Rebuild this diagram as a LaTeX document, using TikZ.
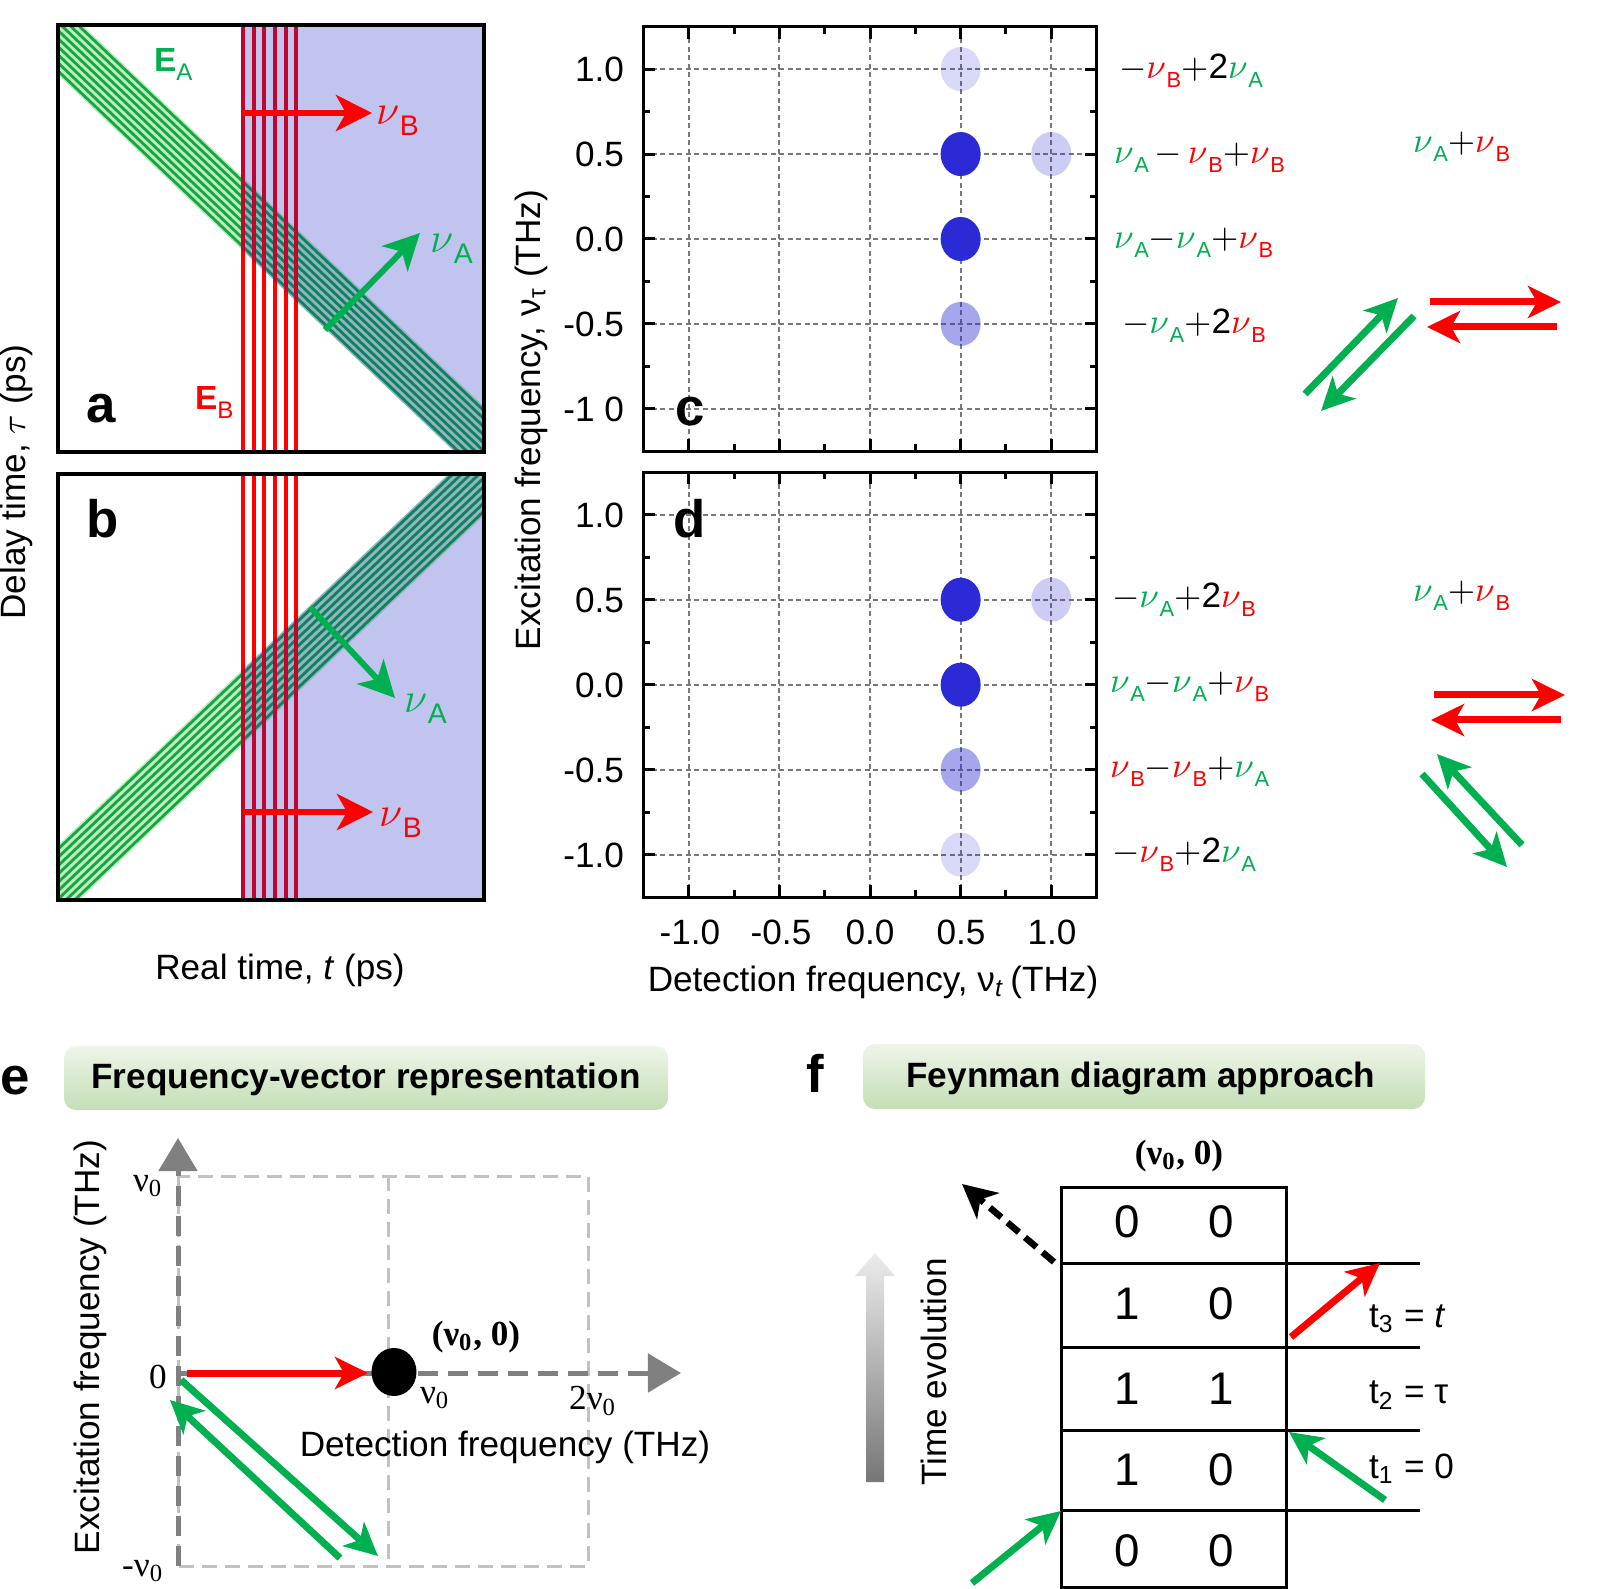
\documentclass[tikz,border=0pt]{standalone}
\usepackage{fontspec}
\setmainfont{Liberation Sans}
\newfontfamily\serifrm{Liberation Serif}
\usepackage{graphicx}
\usetikzlibrary{arrows.meta}
\definecolor{cgreen}{RGB}{0,176,80}
\definecolor{cred}{RGB}{255,0,0}
\definecolor{bandlight}{RGB}{196,234,186}
\definecolor{banddark}{RGB}{14,168,70}
\definecolor{ovl}{RGB}{10,20,190}
\definecolor{dotblue}{RGB}{43,43,214}
\definecolor{gridgray}{RGB}{120,120,120}
\definecolor{axgray}{RGB}{128,128,128}
\definecolor{ltgray}{RGB}{194,194,194}
\definecolor{hdtop}{RGB}{238,245,233}
\definecolor{hdbot}{RGB}{196,222,182}
\definecolor{tedark}{RGB}{118,118,118}
\definecolor{telight}{RGB}{236,236,236}
\newcommand{\nuAg}{{\color{cgreen}$\nu$\kern0.2pt\raisebox{-0.45ex}{\scalebox{0.62}{A}}}}
\newcommand{\nuBr}{{\color{cred}$\nu$\kern0.2pt\raisebox{-0.45ex}{\scalebox{0.62}{B}}}}
\newcommand{\mi}{$-$}
\newcommand{\pl}{$+$}
\tikzset{
  every node/.style={inner sep=0pt, outer sep=0pt},
  fs/.style={font=\fontsize{#1}{#1}\selectfont},
  panel/.style={font=\fontsize{15}{15}\selectfont\bfseries, anchor=base west},
  boxframe/.style={line width=0.04cm},
  bigarrow/.style={line width=0.06cm, -{Stealth[length=0.36cm,width=0.36cm,inset=0.1cm]}},
  smarrow/.style={line width=0.07cm, -{Stealth[length=0.33cm,width=0.32cm,inset=0.09cm]}},
  gridln/.style={gridgray, line width=0.02cm, dash pattern=on 0.05cm off 0.035cm},
  axframe/.style={line width=0.03cm},
  ltdash/.style={ltgray, line width=0.03cm, dash pattern=on 0.15cm off 0.08cm},
  axdash/.style={axgray, line width=0.05cm, dash pattern=on 0.2cm off 0.1cm, -{Triangle[length=0.33cm,width=0.38cm]}},
  rowlbl/.style={fs=10, anchor=base west},
  ticklbl/.style={fs=10},
  axtitle/.style={fs=10},
  header/.style={font=\fontsize{10}{10}\selectfont\bfseries},
  cellnum/.style={fs=13},
}
\begin{document}
\begin{tikzpicture}[x=0.01cm, y=-0.01cm]
\useasboundingbox (0,0) rectangle (1600,1589);
\fill[white] (0,0) rectangle (1600,1589);

% ================= Panel a =================
\begin{scope}
  \clip (58,25) rectangle (484,452);
  \fill[bandlight] (0,-53.1) -- (600,516.9) -- (600,589.9) -- (0,19.9) -- cycle;
  \foreach \i in {0,...,8}{
    \pgfmathsetmacro\k{230+(\i+0.5)*73/9}
    \draw[banddark, line width=0.028cm] (0,\k-283.1) -- (600,\k+286.9);
  }
  \foreach \xx in {243,253.7,264.3,275,285.7,296.3}
    \draw[cred, line width=0.04cm] (\xx,25) -- (\xx,452);
  \fill[ovl, fill opacity=0.25] (241,0) -- (600,0) -- (600,590) -- (241,248.8) -- cycle;
\end{scope}
\draw[boxframe] (58,25) rectangle (484,452);
\coordinate (aRs) at (242,113); \coordinate (aRe) at (372,113);
\draw[cred, bigarrow] (aRs) -- (aRe);
\node[fs=13, anchor=base west] (aRl) at (376,125) {\nuBr};
\coordinate (aGs) at (325,330); \coordinate (aGe) at (420,233);
\draw[cgreen, bigarrow] (aGs) -- (aGe);
\node[fs=13, anchor=base west] (aGl) at (430,253) {\nuAg};
\node[fs=9.5, anchor=base west, text=cgreen] (EA) at (154,72) {\textbf{E}\raisebox{-0.5ex}{\scalebox{0.72}{A}}};
\node[fs=9.5, anchor=base west, text=cred] (EB) at (195,410) {\textbf{E}\raisebox{-0.5ex}{\scalebox{0.72}{B}}};
\node[panel] (la) at (86,423) {a};

% ================= Panel b =================
\begin{scope}
  \clip (58,474) rectangle (484,900);
  \fill[bandlight] (0,900.1) -- (600,330.1) -- (600,405.1) -- (0,975.1) -- cycle;
  \foreach \i in {0,...,8}{
    \pgfmathsetmacro\k{617+(\i+0.5)*75/9}
    \draw[banddark, line width=0.028cm] (0,\k+283.1) -- (600,\k-286.9);
  }
  \foreach \xx in {243,253.7,264.3,275,285.7,296.3}
    \draw[cred, line width=0.04cm] (\xx,474) -- (\xx,900);
  \fill[ovl, fill opacity=0.25] (241,671.1) -- (600,330.1) -- (600,1000) -- (241,1000) -- cycle;
\end{scope}
\draw[boxframe] (58,474) rectangle (484,900);
\coordinate (bGs) at (310,607); \coordinate (bGe) at (395,698);
\draw[cgreen, bigarrow] (bGs) -- (bGe);
\node[fs=13, anchor=base west] (bGl) at (404,713) {\nuAg};
\coordinate (bRs) at (243,812); \coordinate (bRe) at (373,812);
\draw[cred, bigarrow] (bRs) -- (bRe);
\node[fs=13, anchor=base west] (bRl) at (379,827) {\nuBr};
\node[panel] (lb) at (86,538) {b};

\node[axtitle, rotate=90] (ylab) at (16,482) {Delay time, $\tau$ (ps)};
\node[axtitle] (xlab) at (280,970) {Real time, \textit{t} (ps)};

% ================= Panel c =================
\begin{scope}[shift={(870,239)}, x=1.812cm, y=1.698cm]
  \foreach \v in {-1,-0.5,0,0.5,1}{
    \draw[gridln] (\v,-1.25) -- (\v,1.25);
    \draw[gridln] (-1.25,\v) -- (1.25,\v);
  }
  \fill[dotblue, fill opacity=0.18] (0.5,1) ellipse [x radius=0.2cm, y radius=0.22cm];
  \fill[dotblue] (0.5,0.5) ellipse [x radius=0.2cm, y radius=0.22cm];
  \fill[dotblue, fill opacity=0.24] (1,0.5) ellipse [x radius=0.2cm, y radius=0.22cm];
  \fill[dotblue] (0.5,0) ellipse [x radius=0.2cm, y radius=0.22cm];
  \fill[dotblue, fill opacity=0.42] (0.5,-0.5) ellipse [x radius=0.2cm, y radius=0.22cm];
  \foreach \v in {-1,-0.5,0,0.5,1}{
    \draw[axframe] (\v,-1.25) -- ++(0,0.12cm);
    \draw[axframe] (\v,1.25) -- ++(0,-0.12cm);
    \draw[axframe] (-1.25,\v) -- ++(0.12cm,0);
    \draw[axframe] (1.25,\v) -- ++(-0.12cm,0);
  }
  \foreach \v in {-0.75,-0.25,0.25,0.75}{
    \draw[axframe] (\v,-1.25) -- ++(0,0.07cm);
    \draw[axframe] (\v,1.25) -- ++(0,-0.07cm);
    \draw[axframe] (-1.25,\v) -- ++(0.07cm,0);
    \draw[axframe] (1.25,\v) -- ++(-0.07cm,0);
  }
  \draw[axframe] (-1.25,-1.25) rectangle (1.25,1.25);
\end{scope}
\node[ticklbl, anchor=east] (cy1) at (624,69) {1.0};
\node[ticklbl, anchor=east] (cy2) at (624,154) {0.5};
\node[ticklbl, anchor=east] (cy3) at (624,239) {0.0};
\node[ticklbl, anchor=east] (cy4) at (624,324) {-0.5};
\node[ticklbl, anchor=east] (cy5) at (624,409) {-1 0};
\node[panel] (lc) at (675,426) {c};

\node[rowlbl] (cl1) at (1119,79) {\mi\nuBr\pl2\nuAg};
\node[rowlbl] (cl2) at (1114,164) {\nuAg\,\mi\,\nuBr\pl\nuBr};
\node[rowlbl] (cl3) at (1114,249) {\nuAg\mi\nuAg\pl\nuBr};
\node[rowlbl] (cl4) at (1122,334) {\mi\nuAg\pl2\nuBr};
\node[rowlbl] (cl5) at (1413,153) {\nuAg\pl\nuBr};

\coordinate (cg1s) at (1305,394); \coordinate (cg1e) at (1398,298);
\coordinate (cg2s) at (1414,316); \coordinate (cg2e) at (1321,411);
\coordinate (cr1s) at (1430,302); \coordinate (cr1e) at (1561,302);
\coordinate (cr2s) at (1557,327); \coordinate (cr2e) at (1427,327);
\draw[cgreen, smarrow] (cg1s) -- (cg1e);
\draw[cgreen, smarrow] (cg2s) -- (cg2e);
\draw[cred, smarrow] (cr1s) -- (cr1e);
\draw[cred, smarrow] (cr2s) -- (cr2e);

% ================= Panel d =================
\begin{scope}[shift={(870,684.7)}, x=1.812cm, y=1.698cm]
  \foreach \v in {-1,-0.5,0,0.5,1}{
    \draw[gridln] (\v,-1.25) -- (\v,1.25);
    \draw[gridln] (-1.25,\v) -- (1.25,\v);
  }
  \fill[dotblue] (0.5,0.5) ellipse [x radius=0.2cm, y radius=0.22cm];
  \fill[dotblue, fill opacity=0.24] (1,0.5) ellipse [x radius=0.2cm, y radius=0.22cm];
  \fill[dotblue] (0.5,0) ellipse [x radius=0.2cm, y radius=0.22cm];
  \fill[dotblue, fill opacity=0.42] (0.5,-0.5) ellipse [x radius=0.2cm, y radius=0.22cm];
  \fill[dotblue, fill opacity=0.18] (0.5,-1) ellipse [x radius=0.2cm, y radius=0.22cm];
  \foreach \v in {-1,-0.5,0,0.5,1}{
    \draw[axframe] (\v,-1.25) -- ++(0,0.12cm);
    \draw[axframe] (\v,1.25) -- ++(0,-0.12cm);
    \draw[axframe] (-1.25,\v) -- ++(0.12cm,0);
    \draw[axframe] (1.25,\v) -- ++(-0.12cm,0);
  }
  \foreach \v in {-0.75,-0.25,0.25,0.75}{
    \draw[axframe] (\v,-1.25) -- ++(0,0.07cm);
    \draw[axframe] (\v,1.25) -- ++(0,-0.07cm);
    \draw[axframe] (-1.25,\v) -- ++(0.07cm,0);
    \draw[axframe] (1.25,\v) -- ++(-0.07cm,0);
  }
  \draw[axframe] (-1.25,-1.25) rectangle (1.25,1.25);
\end{scope}
\node[ticklbl, anchor=east] (dy1) at (624,515) {1.0};
\node[ticklbl, anchor=east] (dy2) at (624,600) {0.5};
\node[ticklbl, anchor=east] (dy3) at (624,685) {0.0};
\node[ticklbl, anchor=east] (dy4) at (624,770) {-0.5};
\node[ticklbl, anchor=east] (dy5) at (624,855) {-1.0};
\node[ticklbl] (dx1) at (690,932) {-1.0};
\node[ticklbl] (dx2) at (781,932) {-0.5};
\node[ticklbl] (dx3) at (870,932) {0.0};
\node[ticklbl] (dx4) at (961,932) {0.5};
\node[ticklbl] (dx5) at (1052,932) {1.0};
\node[panel] (ld) at (673,538) {d};
\node[axtitle] (dxt) at (873,982) {Detection frequency, ν\textsubscript{\textit{t}}\,(THz)};
\node[axtitle, rotate=90] (cyt) at (531,420) {Excitation frequency, ν\textsubscript{τ} (THz)};

\node[rowlbl] (dl1) at (1112,608) {\mi\nuAg\pl2\nuBr};
\node[rowlbl] (dl2) at (1110,693) {\nuAg\mi\nuAg\pl\nuBr};
\node[rowlbl] (dl3) at (1110,778) {\nuBr\mi\nuBr\pl\nuAg};
\node[rowlbl] (dl4) at (1112,863) {\mi\nuBr\pl2\nuAg};
\node[rowlbl] (dl5) at (1413,602) {\nuAg\pl\nuBr};

\coordinate (dr1s) at (1434,695); \coordinate (dr1e) at (1565,695);
\coordinate (dr2s) at (1561,720); \coordinate (dr2e) at (1431,720);
\coordinate (dg1s) at (1522,845); \coordinate (dg1e) at (1437,754);
\coordinate (dg2s) at (1422,774); \coordinate (dg2e) at (1507,867);
\draw[cred, smarrow] (dr1s) -- (dr1e);
\draw[cred, smarrow] (dr2s) -- (dr2e);
\draw[cgreen, smarrow] (dg1s) -- (dg1e);
\draw[cgreen, smarrow] (dg2s) -- (dg2e);

% ================= Panel e =================
\shade[top color=hdtop, bottom color=hdbot, rounded corners=0.12cm] (64,1046) rectangle (668,1110);
\node[header] (he) at (366,1079) {Frequency-vector representation};
\node[panel] (le) at (0,1094) {e};

\draw[ltdash] (178,1176) rectangle (588,1566);
\draw[ltdash] (388,1176) -- (388,1566);
\coordinate (eVb) at (178,1566); \coordinate (eVt) at (178,1138);
\coordinate (eO) at (178,1373); \coordinate (eHt) at (681,1373);
\draw[axdash] (eVb) -- (eVt);
\draw[axdash] (eO) -- (eHt);
\fill[black] (394,1372) ellipse [x radius=0.225cm, y radius=0.24cm];
\coordinate (eRs) at (187,1373); \coordinate (eRe) at (368,1373);
\draw[cred, smarrow] (eRs) -- (eRe);
\coordinate (eG1s) at (181,1380); \coordinate (eG1e) at (378,1556);
\coordinate (eG2s) at (340,1558); \coordinate (eG2e) at (170,1400);
\draw[cgreen, smarrow] (eG1s) -- (eG1e);
\draw[cgreen, smarrow] (eG2s) -- (eG2e);
\node[fs=11, font=\serifrm] (ev0) at (148,1186) {ν\textsubscript{0}};
\node[fs=11, font=\serifrm] (e00) at (158,1377) {0};
\node[fs=11, font=\serifrm] (evm) at (143,1571) {-ν\textsubscript{0}};
\node[fs=11, font=\serifrm] (ev1) at (435,1398) {ν\textsubscript{0}};
\node[fs=11, font=\serifrm] (ev2) at (593,1401) {2ν\textsubscript{0}};
\node[fs=11.5, font=\serifrm\bfseries] (ept) at (476,1337) {(ν\textsubscript{0}, 0)};
\node[axtitle] (ext) at (505,1447) {Detection frequency (THz)};
\node[axtitle, rotate=90] (eyt) at (90,1347) {Excitation frequency (THz)};

% ================= Panel f =================
\shade[top color=hdtop, bottom color=hdbot, rounded corners=0.12cm] (863,1044) rectangle (1425,1109);
\node[header] (hf) at (1141,1078) {Feynman diagram approach};
\node[panel] (lf) at (806,1092) {f};

\node[fs=11.5, font=\serifrm\bfseries] (fpt) at (1179,1156) {(ν\textsubscript{0}, 0)};
\draw[line width=0.03cm] (1061,1187) rectangle (1286,1587);
\foreach \yy in {1263,1347,1430,1510}
  \draw[line width=0.03cm] (1061,\yy) -- (1420,\yy);
\node[cellnum] (c11) at (1127,1222) {0}; \node[cellnum] (c12) at (1221,1222) {0};
\node[cellnum] (c21) at (1127,1304) {1}; \node[cellnum] (c22) at (1221,1304) {0};
\node[cellnum] (c31) at (1127,1389) {1}; \node[cellnum] (c32) at (1221,1389) {1};
\node[cellnum] (c41) at (1127,1470) {1}; \node[cellnum] (c42) at (1221,1470) {0};
\node[cellnum] (c51) at (1127,1551) {0}; \node[cellnum] (c52) at (1221,1551) {0};

\node[fs=10, anchor=west] (t3) at (1369,1319) {t\textsubscript{3} = \textit{t}};
\node[fs=10, anchor=west] (t2) at (1369,1395) {t\textsubscript{2} = τ};
\node[fs=10, anchor=west] (t1) at (1369,1469) {t\textsubscript{1} = 0};

\coordinate (fDs) at (1054,1262); \coordinate (fDe) at (962,1184);
\draw[black, line width=0.065cm, dash pattern=on 0.15cm off 0.08cm,
  -{Stealth[length=0.34cm,width=0.34cm,inset=0.1cm]}] (fDs) -- (fDe);
\coordinate (fRs) at (1291,1337); \coordinate (fRe) at (1380,1263);
\draw[cred, smarrow] (fRs) -- (fRe);
\coordinate (fG1s) at (1385,1500); \coordinate (fG1e) at (1289,1432);
\draw[cgreen, smarrow] (fG1s) -- (fG1e);
\coordinate (fG2s) at (972,1583); \coordinate (fG2e) at (1061,1511);
\draw[cgreen, smarrow] (fG2s) -- (fG2e);

\shade[top color=telight, bottom color=tedark]
  (866,1482) -- (866,1276) -- (855,1276) -- (875,1253) -- (895,1276) -- (884,1276) -- (884,1482) -- cycle;
\node[axtitle, rotate=90] (tev) at (934,1372) {Time evolution};
\end{tikzpicture}
\end{document}
